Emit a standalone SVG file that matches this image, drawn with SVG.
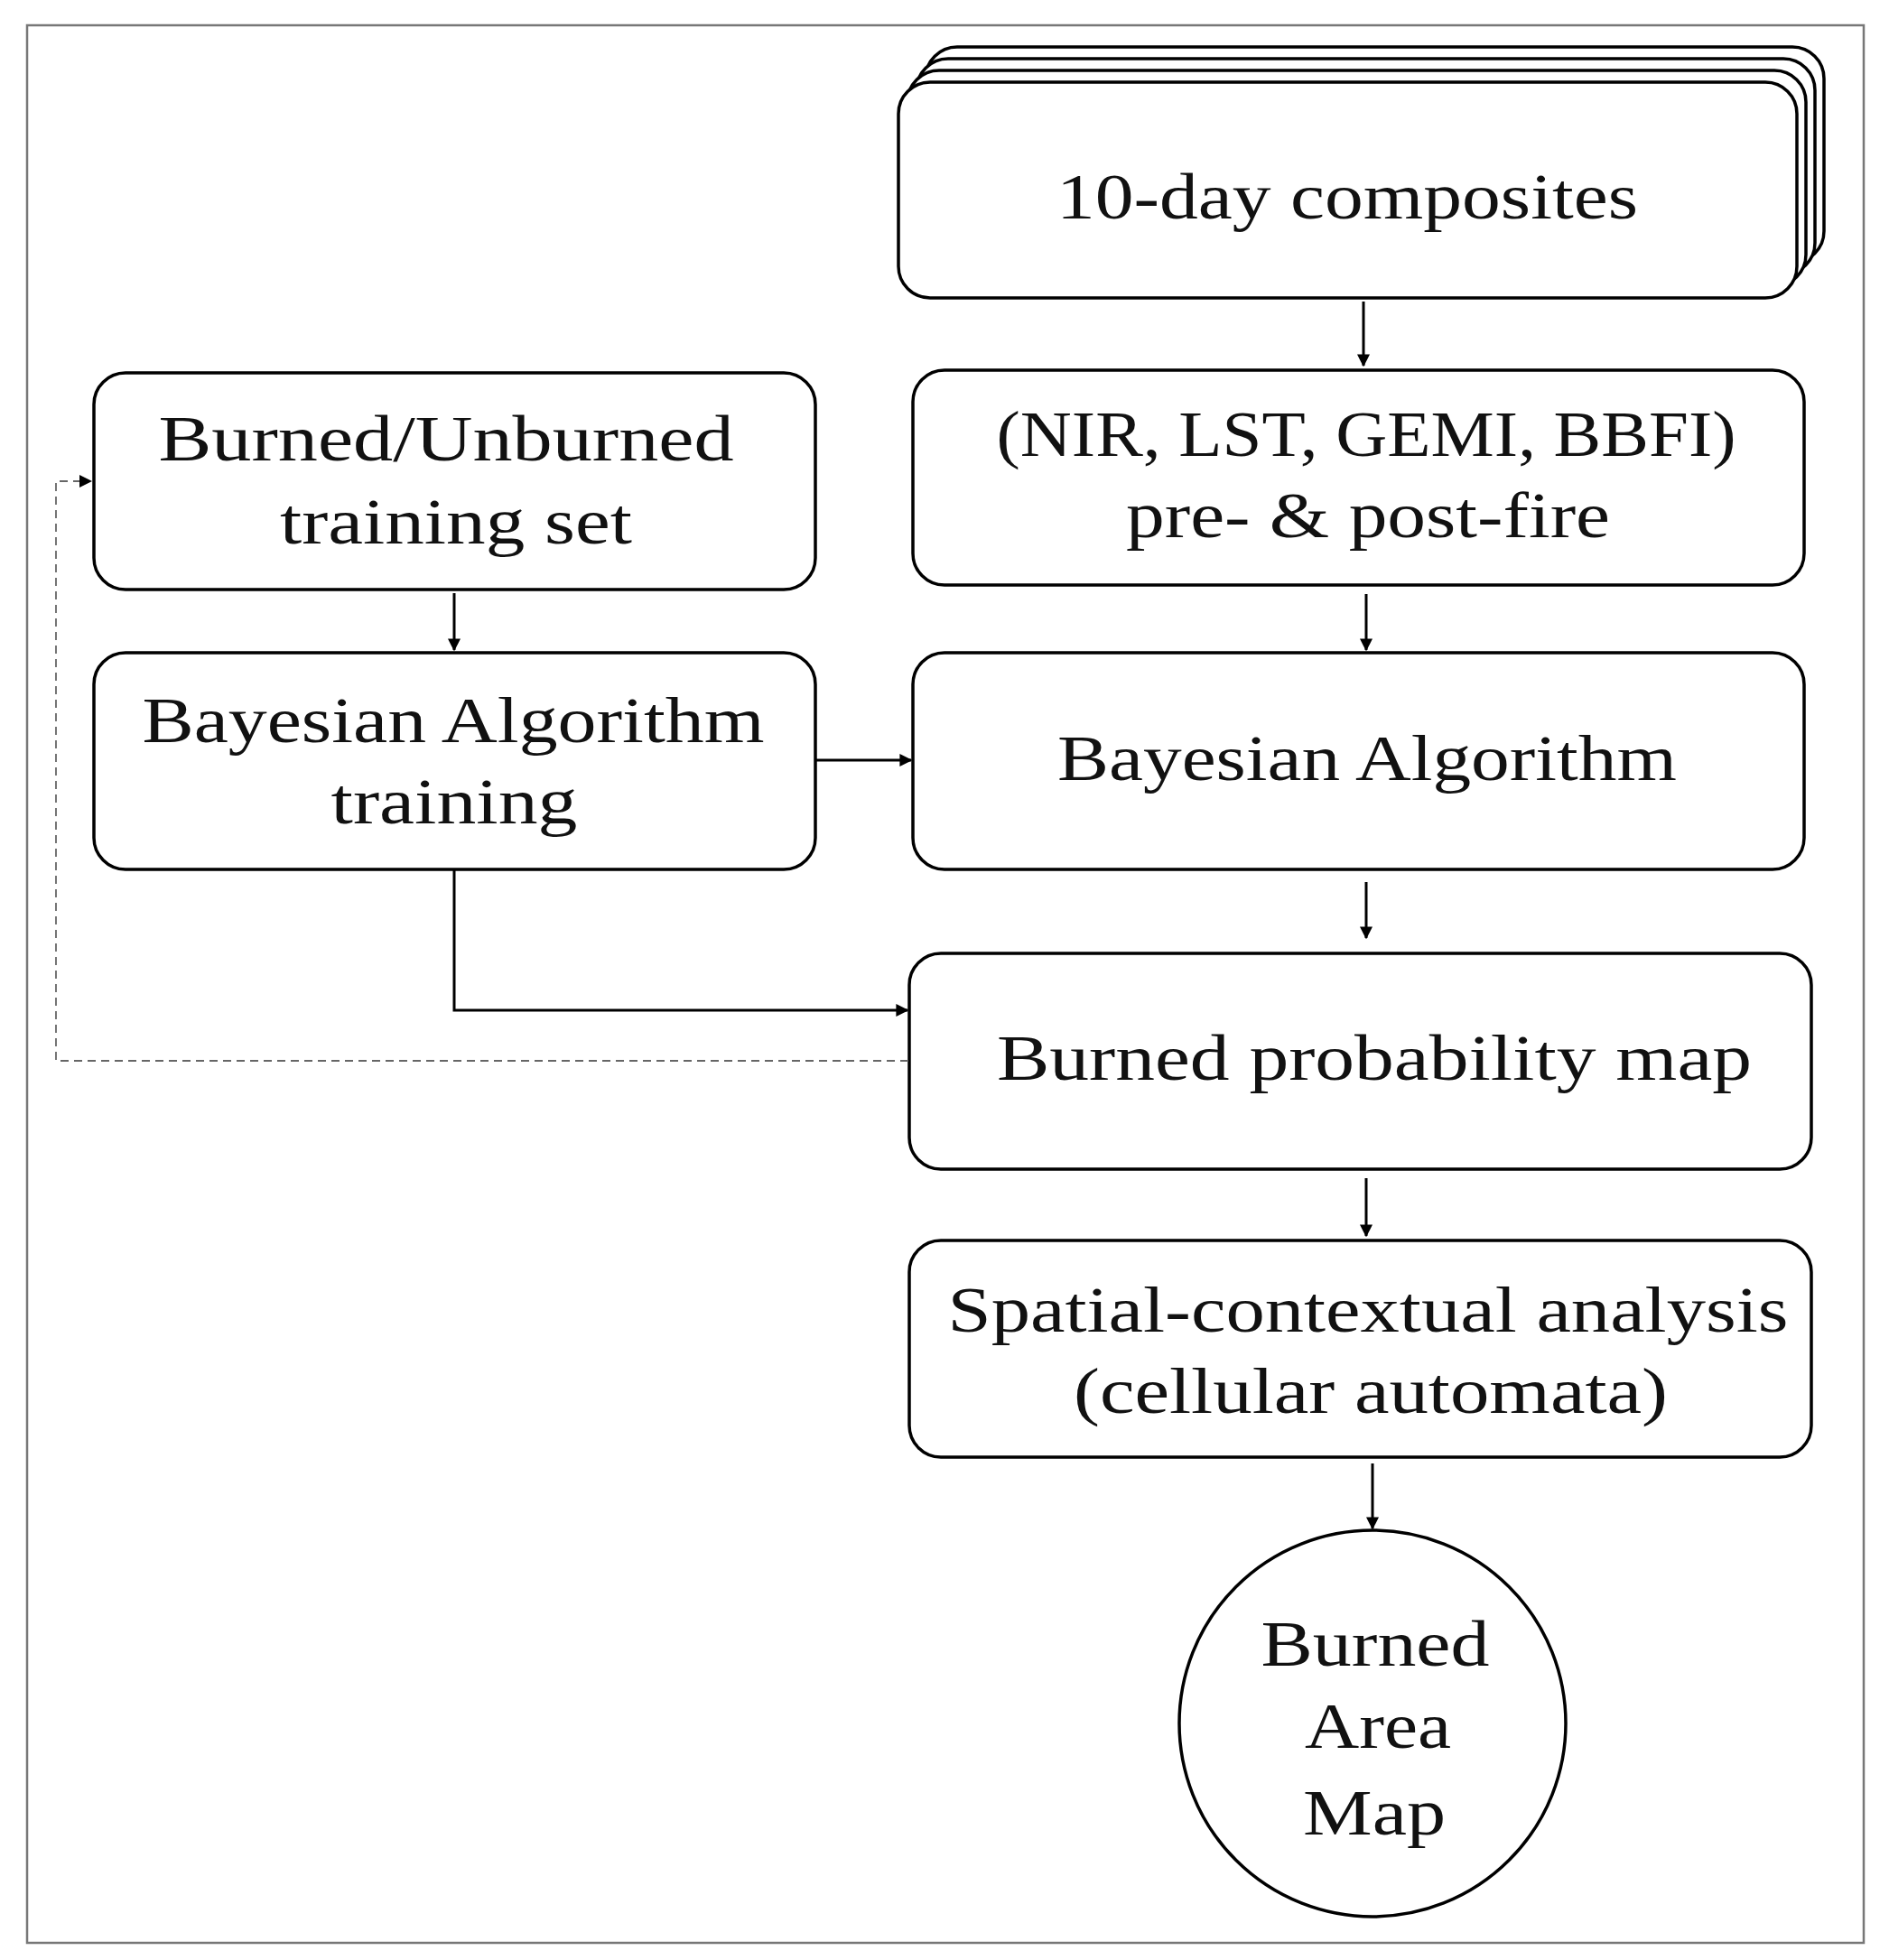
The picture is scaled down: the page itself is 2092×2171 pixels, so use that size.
<svg xmlns="http://www.w3.org/2000/svg" width="2092" height="2171" viewBox="0 0 2092 2171">
<defs>
<style>
.box{fill:#fff;stroke:#000;stroke-width:3.5}
.t{font-family:"Liberation Serif","DejaVu Serif",serif;font-size:72px;fill:#111;text-anchor:middle}
.c{fill:none;stroke:#000;stroke-width:3}
.d{fill:none;stroke:#666;stroke-width:1.8;stroke-dasharray:9 6}
</style>
<marker id="ah" markerWidth="10" markerHeight="10" refX="9" refY="5" orient="auto" markerUnits="userSpaceOnUse" viewBox="0 0 10 10"><path d="M0,0 L10,5 L0,10 z" fill="#000"/></marker>
<marker id="ahs" viewBox="0 0 10 10" refX="9" refY="5" markerWidth="14" markerHeight="14" orient="auto" markerUnits="userSpaceOnUse"><path d="M0,0 L10,5 L0,10 z" fill="#000"/></marker>
</defs>
<rect x="0" y="0" width="2092" height="2171" fill="#fff"/>
<rect x="30" y="28" width="2034" height="2124" fill="#fff" stroke="#777" stroke-width="2.5"/>
<g id="composites">
<rect class="box" x="1025" y="52" width="995" height="239" rx="35"/>
<rect class="box" x="1015" y="65" width="995" height="239" rx="35"/>
<rect class="box" x="1005" y="78" width="995" height="239" rx="35"/>
<rect class="box" x="995" y="91" width="995" height="239" rx="35"/>
<text class="t" x="1492" y="242" textLength="644" lengthAdjust="spacingAndGlyphs">10-day composites</text>
</g>
<g id="indices">
<rect class="box" x="1011" y="410" width="987" height="238" rx="35"/>
<text class="t" x="1513" y="505" textLength="819" lengthAdjust="spacingAndGlyphs">(NIR, LST, GEMI, BBFI)</text>
<text class="t" x="1515" y="595" textLength="536" lengthAdjust="spacingAndGlyphs">pre- &amp; post-fire</text>
</g>
<g id="trainingset">
<rect class="box" x="104" y="413" width="799" height="240" rx="35"/>
<text class="t" x="494" y="510" textLength="637" lengthAdjust="spacingAndGlyphs">Burned/Unburned</text>
<text class="t" x="505" y="602" textLength="390" lengthAdjust="spacingAndGlyphs">training set</text>
</g>
<g id="training">
<rect class="box" x="104" y="723" width="799" height="240" rx="35"/>
<text class="t" x="502" y="822" textLength="689" lengthAdjust="spacingAndGlyphs">Bayesian Algorithm</text>
<text class="t" x="503" y="912" textLength="273" lengthAdjust="spacingAndGlyphs">training</text>
</g>
<g id="bayes">
<rect class="box" x="1011" y="723" width="987" height="240" rx="35"/>
<text class="t" x="1514" y="864" textLength="686" lengthAdjust="spacingAndGlyphs">Bayesian Algorithm</text>
</g>
<g id="probmap">
<rect class="box" x="1007" y="1056" width="999" height="239" rx="35"/>
<text class="t" x="1522" y="1196" textLength="836" lengthAdjust="spacingAndGlyphs">Burned probability map</text>
</g>
<g id="spatial">
<rect class="box" x="1007" y="1374" width="999" height="240" rx="35"/>
<text class="t" x="1515" y="1475" textLength="931" lengthAdjust="spacingAndGlyphs">Spatial-contextual analysis</text>
<text class="t" x="1518" y="1565" textLength="658" lengthAdjust="spacingAndGlyphs">(cellular automata)</text>
</g>
<g id="result">
<circle class="box" cx="1520" cy="1909" r="214"/>
<text class="t" x="1523" y="1845" textLength="253" lengthAdjust="spacingAndGlyphs">Burned</text>
<text class="t" x="1526" y="1936" textLength="162" lengthAdjust="spacingAndGlyphs">Area</text>
<text class="t" x="1522" y="2032" textLength="158" lengthAdjust="spacingAndGlyphs">Map</text>
</g>
<g id="connectors">
<path class="c" d="M1510,334 V405" marker-end="url(#ahs)"/>
<path class="c" d="M1513,658 V720" marker-end="url(#ahs)"/>
<path class="c" d="M503,657 V720" marker-end="url(#ahs)"/>
<path class="c" d="M903,842 H1009" marker-end="url(#ahs)"/>
<path class="c" d="M1513,977 V1039" marker-end="url(#ahs)"/>
<path class="c" d="M503,963 V1119 H1005" marker-end="url(#ahs)"/>
<path class="c" d="M1513,1305 V1369" marker-end="url(#ahs)"/>
<path class="c" d="M1520,1621 V1693" marker-end="url(#ahs)"/>
<path class="d" d="M1006,1175 H62 V533 H88"/>
<path d="M88,526 L102,533 L88,540 z" fill="#000"/>
</g>
</svg>
